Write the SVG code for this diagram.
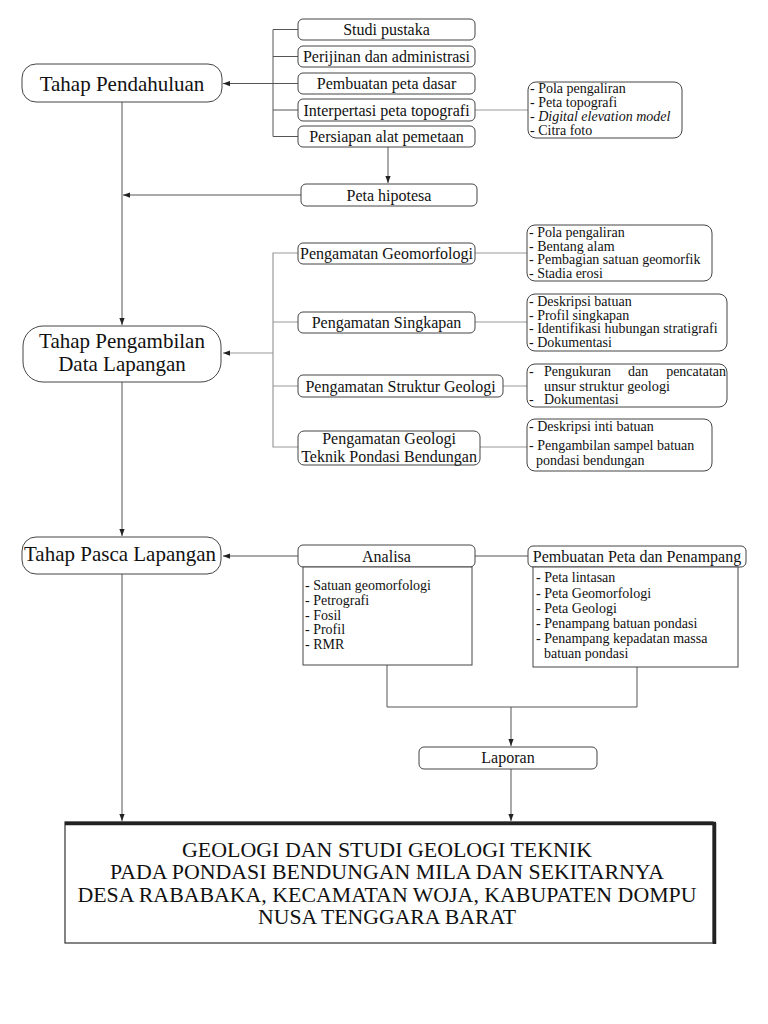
<svg xmlns="http://www.w3.org/2000/svg" width="768" height="1024" viewBox="0 0 768 1024">
<style>
text{font-family:"Liberation Serif","Times New Roman",serif;fill:#111}
.b{fill:#fff;stroke:#444;stroke-width:1}
.t21{font-size:21px;text-anchor:middle}
.t16{font-size:16px;text-anchor:middle}
.l15{font-size:14px}
.c{fill:none;stroke:#555;stroke-width:1}
.cl{fill:none;stroke:#9a9a9a;stroke-width:1.2}
.a{marker-end:url(#ah)}
.ttl{font-size:21px;text-anchor:middle}
</style>
<defs>
<marker id="ah" viewBox="0 0 8 8" refX="8" refY="4" markerWidth="7" markerHeight="7" markerUnits="userSpaceOnUse" orient="auto">
<path d="M0,1 L8,4 L0,7 z" fill="#222"/>
</marker>
</defs>
<rect width="768" height="1024" fill="#fff"/>

<g id="connectors">
<path class="c" d="M298,29.5 H273 V136.5 H298 M273,56.5 H298 M273,83.5 H298 M273,110 H298"/>
<path class="c a" d="M273,83.5 H223"/>
<path class="c a" d="M122,102 V325"/>
<path class="c a" d="M388,147 V183"/>
<path class="c a" d="M301,195 H123"/>
<path class="cl" d="M475,110 H528"/>
<path class="cl" d="M298,253 H273 V447 H298 M273,322 H298 M273,386 H298"/>
<path class="cl a" d="M273,353 H223"/>
<path class="cl" d="M475,253 H527 M475,322 H527 M503,386 H527 M480,447 H527"/>
<path class="c a" d="M122,382 V536"/>
<path class="c a" d="M298,556 H223"/>
<path class="c" d="M475,556 H528"/>
<path class="c" d="M387,665 V707 H637 V667"/>
<path class="c a" d="M511,707 V746"/>
<path class="c a" d="M511,769 V821"/>
<path class="c a" d="M122,574 V821"/>
</g>

<g id="tahap-pendahuluan">
<rect class="b" x="22" y="64" width="200" height="38" rx="14"/>
<text class="t21" x="122" y="90.5">Tahap Pendahuluan</text>
</g>
<g id="studi-pustaka">
<rect class="b" x="298" y="19" width="177" height="21" rx="5"/>
<text class="t16" x="386.5" y="35">Studi pustaka</text>
</g>
<g id="perijinan">
<rect class="b" x="298" y="46" width="177" height="21" rx="5"/>
<text class="t16" x="386.5" y="62">Perijinan dan administrasi</text>
</g>
<g id="peta-dasar">
<rect class="b" x="298" y="73" width="177" height="21" rx="5"/>
<text class="t16" x="386.5" y="89">Pembuatan peta dasar</text>
</g>
<g id="interpertasi">
<rect class="b" x="298" y="99" width="177" height="22" rx="5"/>
<text class="t16" x="386.5" y="115.5">Interpertasi peta topografi</text>
</g>
<g id="persiapan">
<rect class="b" x="298" y="126" width="177" height="21" rx="5"/>
<text class="t16" x="386.5" y="142">Persiapan alat pemetaan</text>
</g>
<g id="pola-list">
<rect class="b" x="528" y="82" width="154" height="56" rx="8"/>
<text class="l15" x="530" y="93">- Pola pengaliran</text>
<text class="l15" x="530" y="107">- Peta topografi</text>
<text class="l15" x="530" y="121">- <tspan font-style="italic">Digital elevation model</tspan></text>
<text class="l15" x="530" y="134.5">- Citra foto</text>
</g>
<g id="peta-hipotesa">
<rect class="b" x="301" y="184" width="176" height="22" rx="5"/>
<text class="t16" x="389" y="200.5">Peta hipotesa</text>
</g>

<g id="tahap-pengambilan">
<rect class="b" x="23" y="326" width="198" height="56" rx="20"/>
<text class="t21" x="122" y="348">Tahap Pengambilan</text>
<text class="t21" x="122" y="371">Data Lapangan</text>
</g>
<g id="geomorfologi">
<rect class="b" x="298" y="243" width="177" height="21" rx="5"/>
<text class="t16" x="386.5" y="259">Pengamatan Geomorfologi</text>
</g>
<g id="geomorfologi-list">
<rect class="b" x="527" y="225" width="185" height="56" rx="8"/>
<text class="l15" x="529" y="237">- Pola pengaliran</text>
<text class="l15" x="529" y="250.5">- Bentang alam</text>
<text class="l15" x="529" y="264">- Pembagian satuan geomorfik</text>
<text class="l15" x="529" y="277.5">- Stadia erosi</text>
</g>
<g id="singkapan">
<rect class="b" x="298" y="312" width="177" height="21" rx="5"/>
<text class="t16" x="386.5" y="328">Pengamatan Singkapan</text>
</g>
<g id="singkapan-list">
<rect class="b" x="527" y="294" width="200" height="57" rx="8"/>
<text class="l15" x="529" y="306">- Deskripsi batuan</text>
<text class="l15" x="529" y="319.5">- Profil singkapan</text>
<text class="l15" x="529" y="333">- Identifikasi hubungan stratigrafi</text>
<text class="l15" x="529" y="346.5">- Dokumentasi</text>
</g>
<g id="struktur">
<rect class="b" x="298" y="375" width="205" height="22" rx="5"/>
<text class="t16" x="400.5" y="391.5">Pengamatan Struktur Geologi</text>
</g>
<g id="struktur-list">
<rect class="b" x="527" y="364" width="200" height="43" rx="8"/>
<text class="l15" x="529" y="375.5">-</text>
<text class="l15" x="544" y="375.5">Pengukuran</text>
<text class="l15" x="628" y="375.5">dan</text>
<text class="l15" x="726" y="375.5" text-anchor="end">pencatatan</text>
<text class="l15" x="544" y="390.5" textLength="126" lengthAdjust="spacingAndGlyphs">unsur struktur geologi</text>
<text class="l15" x="529" y="404">-</text>
<text class="l15" x="544" y="404">Dokumentasi</text>
</g>
<g id="teknik">
<rect class="b" x="298" y="431" width="182" height="34" rx="6"/>
<text class="t16" x="389" y="444">Pengamatan Geologi</text>
<text class="t16" x="389" y="462">Teknik Pondasi Bendungan</text>
</g>
<g id="teknik-list">
<rect class="b" x="527" y="419" width="185" height="52" rx="8"/>
<text class="l15" x="529" y="431">- Deskripsi inti batuan</text>
<text class="l15" x="529" y="450">- Pengambilan sampel batuan</text>
<text class="l15" x="536" y="465">pondasi bendungan</text>
</g>

<g id="tahap-pasca">
<rect class="b" x="22" y="537" width="199" height="37" rx="14"/>
<text class="t21" x="120" y="560.5" textLength="192" lengthAdjust="spacingAndGlyphs">Tahap Pasca Lapangan</text>
</g>
<g id="analisa">
<rect class="b" x="298" y="545" width="177" height="22" rx="5"/>
<text class="t16" x="386.5" y="562">Analisa</text>
<rect class="b" x="303" y="567" width="169" height="98"/>
<text class="l15" x="305" y="590">- Satuan geomorfologi</text>
<text class="l15" x="305" y="605">- Petrografi</text>
<text class="l15" x="305" y="620">- Fosil</text>
<text class="l15" x="305" y="634">- Profil</text>
<text class="l15" x="305" y="649">- RMR</text>
</g>
<g id="pembuatan-peta">
<rect class="b" x="528" y="546" width="218" height="21" rx="5"/>
<text class="t16" x="637" y="562">Pembuatan Peta dan Penampang</text>
<rect class="b" x="533" y="567" width="205" height="100"/>
<text class="l15" x="536" y="582">- Peta lintasan</text>
<text class="l15" x="536" y="598">- Peta Geomorfologi</text>
<text class="l15" x="536" y="613">- Peta Geologi</text>
<text class="l15" x="536" y="628">- Penampang batuan pondasi</text>
<text class="l15" x="536" y="643">- Penampang kepadatan massa</text>
<text class="l15" x="544" y="657.5">batuan pondasi</text>
</g>
<g id="laporan">
<rect class="b" x="419" y="747" width="178" height="22" rx="5"/>
<text class="t16" x="508" y="763">Laporan</text>
</g>

<g id="judul">
<rect x="65" y="822" width="648" height="121" fill="#fff" stroke="#333" stroke-width="1.2"/>
<path d="M65,823.5 H716 M714.5,823 V944" fill="none" stroke="#222" stroke-width="3.5"/>
<text class="ttl" x="387" y="857" textLength="410" lengthAdjust="spacingAndGlyphs">GEOLOGI DAN STUDI GEOLOGI TEKNIK</text>
<text class="ttl" x="387" y="879" textLength="554" lengthAdjust="spacingAndGlyphs">PADA PONDASI BENDUNGAN MILA DAN SEKITARNYA</text>
<text class="ttl" x="387" y="901.5" textLength="619" lengthAdjust="spacingAndGlyphs">DESA RABABAKA, KECAMATAN WOJA, KABUPATEN DOMPU</text>
<text class="ttl" x="387" y="924" textLength="258" lengthAdjust="spacingAndGlyphs">NUSA TENGGARA BARAT</text>
</g>
</svg>
